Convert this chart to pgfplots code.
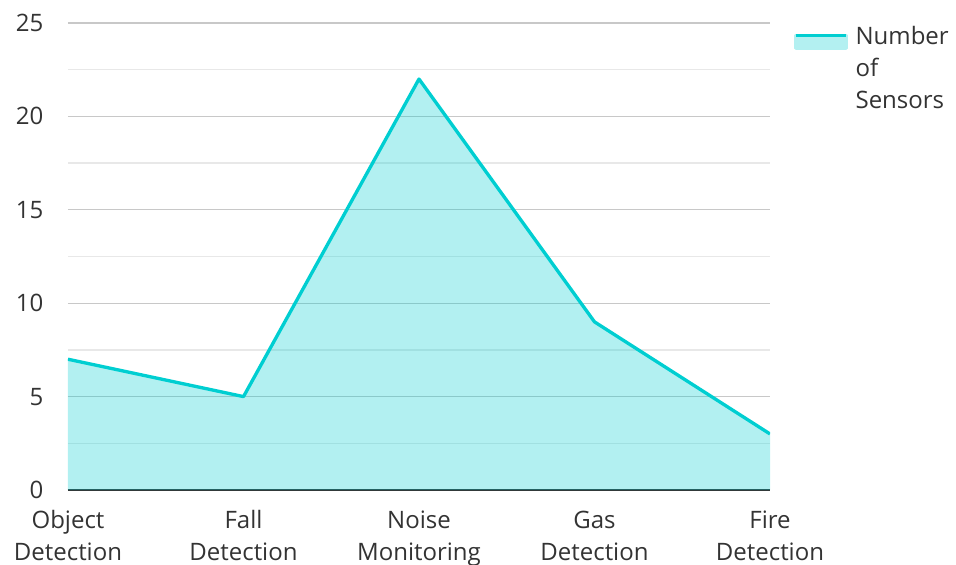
\documentclass[border=0pt]{standalone}
\usepackage{pgfplots}
\pgfplotsset{compat=1.18}
\usepackage{fontspec}
\setmainfont{Open Sans}
\definecolor{linec}{RGB}{0,206,209}
\definecolor{fillc}{RGB}{179,240,241}
\definecolor{txt}{RGB}{51,51,51}
\definecolor{majg}{RGB}{200,200,200}
\definecolor{ming}{RGB}{232,232,232}
\begin{document}
\begin{tikzpicture}
\begin{axis}[
  set layers,
  scale only axis,
  width=526.5pt, height=350.25pt,
  xmin=0, xmax=4, ymin=0, ymax=25,
  xtick={0,1,2,3,4},
  xticklabels={{Object\\Detection},{Fall\\Detection},{Noise\\Monitoring},{Gas\\Detection},{Fire\\Detection}},
  ytick={0,5,10,15,20,25},
  minor ytick={2.5,7.5,12.5,17.5,22.5},
  ymajorgrids, yminorgrids,
  major grid style={draw=majg, line width=0.9pt},
  minor grid style={draw=ming, line width=0.9pt},
  axis x line*=bottom, axis y line*=left,
  x axis line style={draw=txt, line width=1.5pt, -, on layer=axis foreground},
  y axis line style={draw=none},
  tick style={draw=none},
  major tick length=0pt, minor tick length=0pt,
  tick label style={font=\fontsize{18}{24}\selectfont, text=txt},
  xticklabel style={align=center, anchor=north, yshift=-12pt},
  yticklabel style={anchor=east, xshift=-15pt},
  /pgf/number format/assume math mode=true,
  legend style={at={(1,1)}, anchor=north west, xshift=18pt, yshift=0pt, draw=none, fill=none,
    font=\fontsize{18}{24}\selectfont, text=txt, inner sep=0pt, legend cell align=left},
]
\addplot[draw=none, fill=linec, fill opacity=0.3, forget plot] coordinates {
  (0,7) (1,5) (2,22) (3,9) (4,3)
} \closedcycle;
\addplot[draw=linec, line width=2.5pt, line join=round,
  legend image code/.code={
    \fill[fillc] (0pt,-9.25pt) rectangle (37.5pt,0.5pt);
    \draw[linec, line width=2.5pt] (0pt,0.5pt) -- (37.5pt,0.5pt);
  }] coordinates {
  (0,7) (1,5) (2,22) (3,9) (4,3)
};
\addlegendentry{\parbox[t]{80pt}{\leftskip=4pt Number\\of\\Sensors}}
\coordinate (bl) at (rel axis cs:0,0);
\coordinate (tr) at (rel axis cs:1,1);
\end{axis}
\pgfresetboundingbox
\path[use as bounding box] ([xshift=-51pt,yshift=-55.5pt]bl) rectangle ([xshift=139.5pt,yshift=17.25pt]tr);
\end{tikzpicture}
\end{document}
